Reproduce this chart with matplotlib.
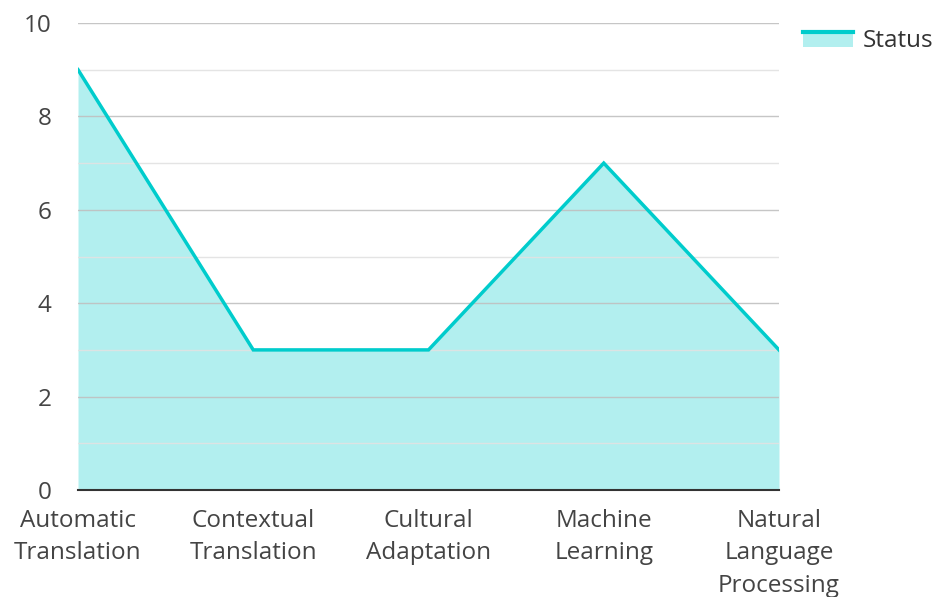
import matplotlib
matplotlib.use("Agg")
import matplotlib.pyplot as plt
from matplotlib.patches import Rectangle
from matplotlib.lines import Line2D
from matplotlib.legend_handler import HandlerBase

plt.rcParams['font.family'] = ['Open Sans', 'Noto Sans', 'DejaVu Sans']

categories = ["Automatic\nTranslation", "Contextual\nTranslation", "Cultural\nAdaptation",
              "Machine\nLearning", "Natural\nLanguage\nProcessing"]
status = [9, 3, 3, 7, 3]
series_name = "Status"

line_color = "#00CCCC"
text_color = "#444444"
fs = 17.5

fig = plt.figure(figsize=(9.37, 5.97), dpi=100)
ax = fig.add_axes([78/937, 1-490/597, (779-78)/937, (490-23)/597])

x = list(range(len(categories)))
ax.fill_between(x, status, 0, color=line_color, alpha=0.3, linewidth=0, zorder=2)
ax.plot(x, status, color=line_color, linewidth=2.5, zorder=3, solid_joinstyle='miter')

ax.set_xlim(0, len(categories)-1)
ax.set_ylim(0, 10)
ax.set_yticks([0, 2, 4, 6, 8, 10])
ax.set_yticks([1, 3, 5, 7, 9], minor=True)
ax.set_axisbelow(False)
ax.grid(axis='y', which='major', color='#c0c0c0', linewidth=1, alpha=0.9)
ax.grid(axis='y', which='minor', color='#e2e2e2', linewidth=1, alpha=0.9)

ax.set_xticks(x)
ax.set_xticklabels(categories, fontsize=fs, color=text_color, linespacing=1.47)
ax.tick_params(axis='x', length=0, pad=13.5)
ax.tick_params(axis='y', which='both', length=0, pad=19, labelsize=fs, labelcolor=text_color)

for s in ['top', 'right', 'left']:
    ax.spines[s].set_visible(False)
ax.spines['bottom'].set_color('#333333')
ax.spines['bottom'].set_linewidth(1.5)
ax.spines['bottom'].set_zorder(4)


class AreaHandler(HandlerBase):
    def create_artists(self, legend, orig_handle, xdescent, ydescent, width, height, fontsize, trans):
        rect = Rectangle((-xdescent, -ydescent), width, height, facecolor=line_color,
                         alpha=0.3, edgecolor='none', transform=trans)
        ln = Line2D([-xdescent, -xdescent + width], [height - ydescent - 1.5, height - ydescent - 1.5],
                    color=line_color, linewidth=3, transform=trans)
        return [rect, ln]


handle = Rectangle((0, 0), 1, 1)
leg = fig.legend([handle], [series_name], handler_map={Rectangle: AreaHandler()},
                 loc='upper left', bbox_to_anchor=(803/937, 1-29/597), frameon=False,
                 fontsize=fs, handlelength=2.05, handleheight=0.66, handletextpad=0.42,
                 borderaxespad=0, borderpad=0)
for t in leg.get_texts():
    t.set_color('#333333')

fig.savefig("out.png", dpi=100)
